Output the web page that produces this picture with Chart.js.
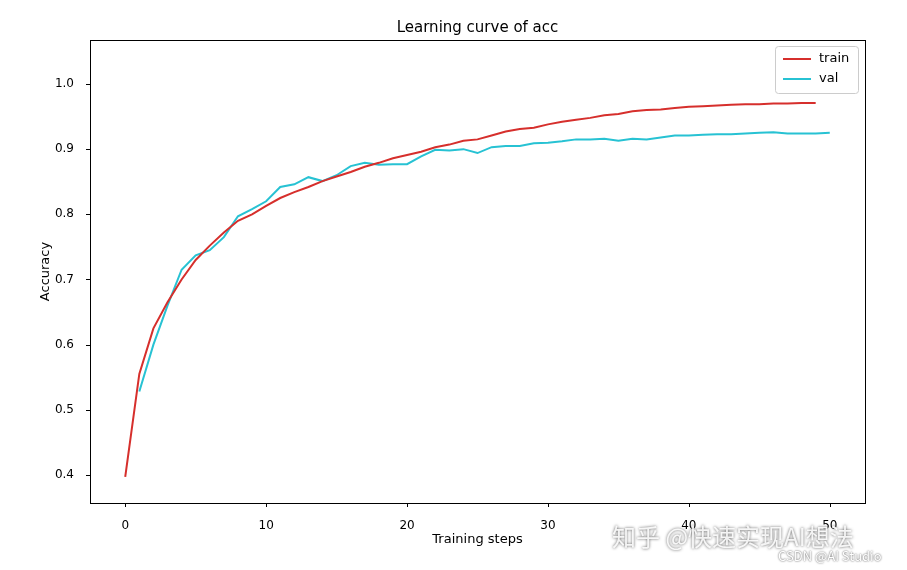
<!DOCTYPE html>
<html><head><meta charset="utf-8">
<script src="https://cdn.jsdelivr.net/npm/chart.js@4/dist/chart.umd.min.js"></script>
<style>body{margin:0;background:#fff}#w{position:relative;width:907px;height:570px}
.wm{position:absolute;font-family:"Noto Sans CJK SC",sans-serif}
</style></head><body><div id="w"><canvas id="c" width="907" height="570"></canvas>
<div class="wm" style="left:612px;top:518px;font-size:24px;color:rgba(255,255,255,0.9);text-shadow:0 0 3px #555">知乎 @快速实现AI想法</div>
<div class="wm" style="left:778px;top:546px;font-size:13px;color:#fff;text-shadow:0 0 2px #333">CSDN @AI Studio</div></div>
<script>
const trainSteps=[...Array(50).keys()];
const trainAcc=[0.397,0.555,0.625,0.665,0.70,0.73,0.752,0.772,0.79,0.80,0.813,0.825,0.834,0.842,0.851,0.858,0.865,0.873,0.879,0.886,0.891,0.896,0.903,0.907,0.913,0.915,0.921,0.927,0.931,0.933,0.938,0.942,0.945,0.948,0.952,0.954,0.958,0.96,0.961,0.963,0.965,0.966,0.967,0.968,0.969,0.969,0.970,0.970,0.971,0.971];
const valSteps=trainSteps.map(s=>s+1);
const valAcc=[0.528,0.60,0.66,0.715,0.737,0.745,0.765,0.797,0.808,0.82,0.842,0.846,0.857,0.851,0.86,0.874,0.879,0.876,0.877,0.877,0.889,0.899,0.898,0.9,0.894,0.903,0.905,0.905,0.909,0.91,0.912,0.915,0.915,0.916,0.913,0.916,0.915,0.918,0.921,0.921,0.922,0.923,0.923,0.924,0.925,0.926,0.924,0.924,0.924,0.925];
const xTicks=[0,10,20,30,40,50];
const yTicks=[0.4,0.5,0.6,0.7,0.8,0.9,1.0];
const F='"DejaVu Sans",sans-serif';
const deco={id:'deco',afterDraw(ch){const c=ch.ctx,a=ch.chartArea;c.save();
c.fillStyle='#000';c.font='15px '+F;c.textAlign='center';c.textBaseline='alphabetic';c.fillText('Learning curve of acc',(a.left+a.right)/2,32);
c.font='13px '+F;c.fillText('Training steps',(a.left+a.right)/2,543);
c.save();c.translate(49,(a.top+a.bottom)/2);c.rotate(-Math.PI/2);c.fillText('Accuracy',0,0);c.restore();
c.strokeStyle='#000';c.lineWidth=1;c.strokeRect(Math.round(a.left)+.5,Math.round(a.top)+.5,Math.round(a.right-a.left),Math.round(a.bottom-a.top));
c.beginPath();xTicks.forEach(v=>{const x=Math.round(ch.scales.x.getPixelForValue(v))+.5;c.moveTo(x,a.bottom);c.lineTo(x,a.bottom+4);});
yTicks.forEach(v=>{const y=Math.round(ch.scales.y.getPixelForValue(v))+.5;c.moveTo(a.left,y);c.lineTo(a.left-4,y);});c.stroke();
const lx=a.right-90,ly=a.top+6;c.strokeStyle='#ccc';c.fillStyle='rgba(255,255,255,0.85)';c.beginPath();c.roundRect(lx+.5,ly+.5,83,47,3);c.fill();c.stroke();
c.font='13px '+F;c.textAlign='left';c.textBaseline='middle';
ch.data.datasets.forEach((d,i)=>{const y=ly+13+i*20;c.strokeStyle=d.borderColor;c.lineWidth=2;c.beginPath();c.moveTo(lx+8,y);c.lineTo(lx+36,y);c.stroke();c.fillStyle='#000';c.fillText(d.label,lx+44,y);});
c.restore();}};
new Chart(document.getElementById('c'),{type:'line',
data:{datasets:[{label:'train',data:trainSteps.map((x,i)=>({x,y:trainAcc[i]})),borderColor:'#d62f2c',borderWidth:2,pointRadius:0,tension:0},
{label:'val',data:valSteps.map((x,i)=>({x,y:valAcc[i]})),borderColor:'#27c2d3',borderWidth:2,pointRadius:0,tension:0}]},
options:{responsive:false,animation:false,layout:{padding:{top:40,right:42,left:0,bottom:0}},
plugins:{legend:{display:false},title:{display:false},tooltip:{enabled:false}},
scales:{x:{type:'linear',min:-2.5,max:52.5,afterFit(s){s.height=67},afterBuildTicks(s){s.ticks=xTicks.map(v=>({value:v}))},
grid:{display:false},border:{display:false},ticks:{color:'#000',font:{family:F,size:12},padding:8}},
y:{min:0.357,max:1.0675,afterFit(s){s.width=90},afterBuildTicks(s){s.ticks=yTicks.map(v=>({value:v}))},
grid:{display:false},border:{display:false},ticks:{color:'#000',font:{family:F,size:12},padding:8,callback:v=>v.toFixed(1)}}}},
plugins:[deco]});
</script></body></html>
